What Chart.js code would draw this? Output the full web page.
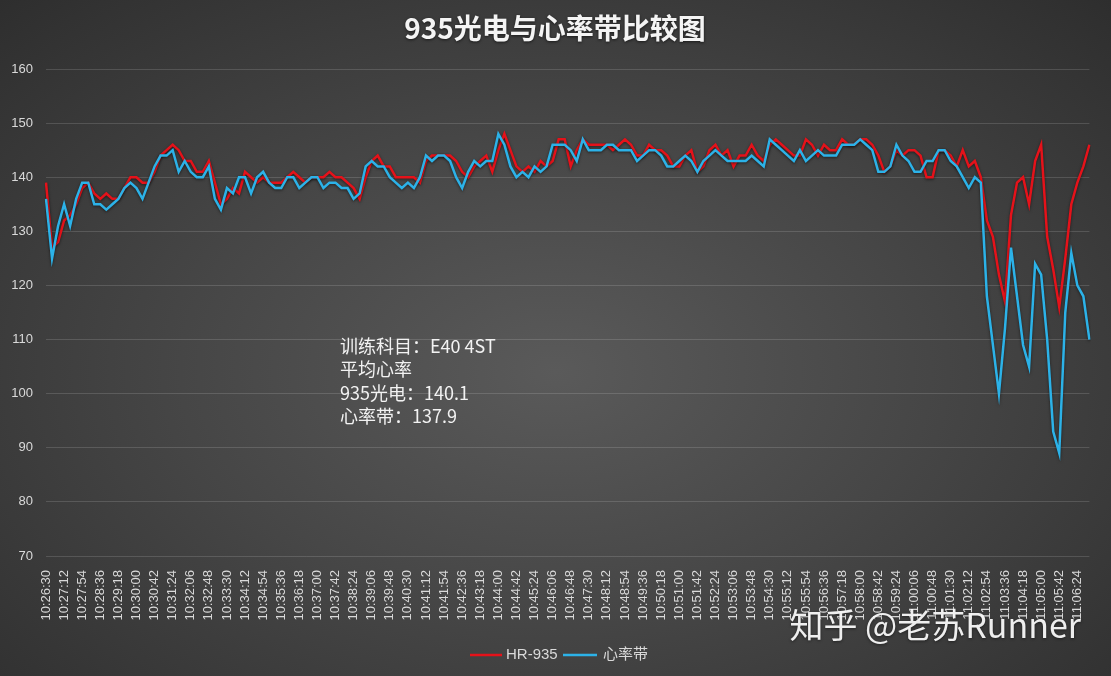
<!DOCTYPE html>
<html>
<head>
<meta charset="utf-8">
<script src="https://cdn.jsdelivr.net/npm/chart.js@4/dist/chart.umd.min.js"></script>
<style>
  html, body { margin: 0; padding: 0; }
  body {
    width: 1111px; height: 676px; overflow: hidden;
    background: radial-gradient(ellipse 75% 80% at 50% 55%, #5a5a5a 0%, #464646 45%, #2c2c2c 100%);
  }
  canvas { display: block; }
</style>
</head>
<body>
<canvas id="hrChart" width="1111" height="676"></canvas>
<script>
// tick labels shown every 3rd sample (every 42 s, samples are 14 s apart)
const tickLabels = [
  "10:26:30","10:27:12","10:27:54","10:28:36","10:29:18","10:30:00","10:30:42","10:31:24",
  "10:32:06","10:32:48","10:33:30","10:34:12","10:34:54","10:35:36","10:36:18","10:37:00",
  "10:37:42","10:38:24","10:39:06","10:39:48","10:40:30","10:41:12","10:41:54","10:42:36",
  "10:43:18","10:44:00","10:44:42","10:45:24","10:46:06","10:46:48","10:47:30","10:48:12",
  "10:48:54","10:49:36","10:50:18","10:51:00","10:51:42","10:52:24","10:53:06","10:53:48",
  "10:54:30","10:55:12","10:55:54","10:56:36","10:57:18","10:58:00","10:58:42","10:59:24",
  "11:00:06","11:00:48","11:01:30","11:02:12","11:02:54","11:03:36","11:04:18","11:05:00",
  "11:05:42","11:06:24"
];

// HR-935 (optical)
const hr935 = [
  139,127,128,132,133,135,138,139,137,136,
  137,136,136,138,140,140,139,139,141,144,
  145,146,145,143,143,141,141,143,139,135,
  136,138,137,141,140,139,140,139,139,139,
  140,141,140,139,140,140,140,141,140,140,
  139,138,136,140,143,144,142,142,140,140,
  140,140,139,143,144,144,144,144,143,141,
  140,142,143,144,141,145,148,145,142,141,
  142,141,143,142,143,147,147,142,145,147,
  146,146,146,146,145,146,147,146,144,144,
  146,145,145,144,142,142,144,145,141,142,
  145,146,144,145,142,144,144,146,144,143,
  146,147,146,145,144,144,147,146,144,146,
  145,145,147,146,146,147,147,146,144,141,
  142,145,144,145,145,144,140,140,145,145,
  144,142,145,142,143,140,132,129,122,117,
  133,139,140,135,143,146,129,123,116,125,
  135,139,142,146
];

// 心率带 (chest strap)
const strap = [
  136,125,131,135,131,136,139,139,135,135,
  134,135,136,138,139,138,136,139,142,144,
  144,145,141,143,141,140,140,142,136,134,
  138,137,140,140,137,140,141,139,138,138,
  140,140,138,139,140,140,138,139,139,138,
  138,136,137,142,143,142,142,140,139,138,
  139,138,140,144,143,144,144,143,140,138,
  141,143,142,143,143,148,146,142,140,141,
  140,142,141,142,146,146,146,145,143,147,
  145,145,145,146,146,145,145,145,143,144,
  145,145,144,142,142,143,144,143,141,143,
  144,145,144,143,143,143,143,144,143,142,
  147,146,145,144,143,145,143,144,145,144,
  144,144,146,146,146,147,146,145,141,141,
  142,146,144,143,141,141,143,143,145,145,
  143,142,140,138,140,139,118,109,100,112,
  127,118,109,105,124,122,110,93,89,115,
  126,120,118,110
];

const titleText = "935光电与心率带比较图";
const noteLines = ["训练科目：E40 4ST", "平均心率", "935光电：140.1", "心率带：137.9"];

const labels = hr935.map((v, i) => (i % 3 === 0 && tickLabels[i / 3]) ? tickLabels[i / 3] : "");

const textColor = "#d9d9d9";
const gridColor = "rgba(255,255,255,0.14)";

const extras = {
  id: "extras",
  beforeDatasetsDraw(chart) {
    const ctx = chart.ctx;
    ctx.save();
    ctx.shadowColor = "rgba(0,0,0,0.55)";
    ctx.shadowBlur = 3;
    ctx.shadowOffsetY = 1;
  },
  afterDatasetsDraw(chart) {
    chart.ctx.restore();
  },
  afterDraw(chart) {
    const ctx = chart.ctx;
    const a = chart.chartArea;
    ctx.save();
    ctx.textBaseline = "middle";

    // title
    ctx.textAlign = "center";
    ctx.fillStyle = "#f4f4f4";
    ctx.shadowColor = "rgba(0,0,0,0.6)";
    ctx.shadowBlur = 3;
    ctx.shadowOffsetY = 1;
    ctx.font = 'bold 28px "Noto Sans CJK SC", sans-serif';
    ctx.fillText(titleText, 555, 28);
    ctx.shadowColor = "transparent";

    // note
    ctx.textAlign = "left";
    ctx.fillStyle = "#f2f2f2";
    ctx.font = '18px "Noto Sans CJK SC", "Liberation Sans", sans-serif';
    noteLines.forEach((t, i) => ctx.fillText(t, a.left + 294, a.top + 277 + i * 23.5));

    // legend
    const ds = chart.data.datasets;
    const items = [{ x: 470, w: 32, tx: 506 }, { x: 563, w: 34, tx: 603 }];
    ctx.font = '15px "Liberation Sans", "Noto Sans CJK SC", sans-serif';
    items.forEach((it, i) => {
      ctx.strokeStyle = ds[i].borderColor;
      ctx.lineWidth = 2.5;
      ctx.beginPath();
      ctx.moveTo(it.x, 655);
      ctx.lineTo(it.x + it.w, 655);
      ctx.stroke();
      ctx.fillStyle = textColor;
      ctx.fillText(ds[i].label, it.tx, 655);
    });

    // watermark
    ctx.font = '34px "Noto Sans CJK SC", "Liberation Sans", sans-serif';
    ctx.fillStyle = "rgba(255,255,255,0.92)";
    ctx.shadowColor = "rgba(0,0,0,0.5)";
    ctx.shadowBlur = 3;
    ctx.textAlign = "right";
    ctx.fillText("知乎 @老苏Runner", 1081, 625);
    ctx.restore();
  }
};

new Chart(document.getElementById("hrChart"), {
  type: "line",
  data: {
    labels: labels,
    datasets: [
      {
        label: "HR-935",
        data: hr935,
        borderColor: "#e5121a",
        backgroundColor: "#e5121a",
        borderWidth: 2.5,
        pointRadius: 0,
        tension: 0,
        order: 2
      },
      {
        label: "心率带",
        data: strap,
        borderColor: "#2cb2e8",
        backgroundColor: "#2cb2e8",
        borderWidth: 2.5,
        pointRadius: 0,
        tension: 0,
        order: 1
      }
    ]
  },
  options: {
    responsive: false,
    animation: false,
    devicePixelRatio: 1,
    layout: { padding: { left: 0, right: 17, top: 69, bottom: 50 } },
    plugins: {
      tooltip: { enabled: false },
      title: { display: false },
      legend: { display: false }
    },
    scales: {
      x: {
        grid: { display: false },
        border: { display: false },
        ticks: {
          autoSkip: false,
          maxRotation: 90,
          minRotation: 90,
          color: textColor,
          padding: 6,
          font: { family: '"Liberation Sans", sans-serif', size: 13 }
        },
        afterFit(s) { s.height = 70; }
      },
      y: {
        min: 70,
        max: 160,
        ticks: {
          stepSize: 10,
          color: textColor,
          padding: 13,
          font: { family: '"Liberation Sans", sans-serif', size: 13 }
        },
        grid: { color: gridColor, drawTicks: false },
        border: { display: false },
        afterFit(s) { s.width = 46; }
      }
    }
  },
  plugins: [extras]
});
</script>
</body>
</html>
